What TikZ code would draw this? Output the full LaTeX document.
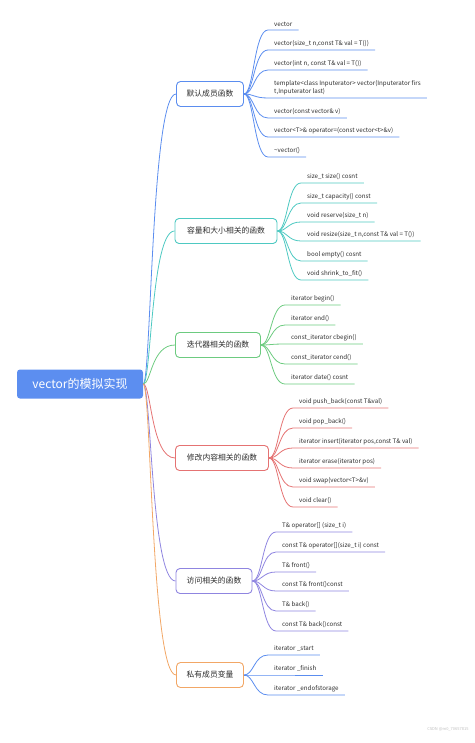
\documentclass[tikz,border=0pt]{standalone}
\usepackage{fontspec}
\setmainfont{Noto Sans CJK SC}
\usetikzlibrary{calc}
\definecolor{rootblue}{HTML}{5C8EF0}
\definecolor{cblue}{HTML}{5B8DEF}
\definecolor{cteal}{HTML}{4EC9C2}
\definecolor{cgreen}{HTML}{6DCB80}
\definecolor{cred}{HTML}{E57373}
\definecolor{cpurple}{HTML}{8F85E0}
\definecolor{corange}{HTML}{F2A766}
\definecolor{txt}{HTML}{2E2E2E}
\tikzset{rootbox/.style={rectangle,rounded corners=3pt,fill=rootblue,text=white,
    minimum width=126pt,minimum height=29pt,font=\fontsize{12}{14}\selectfont},
  topic/.style={rectangle,rounded corners=4pt,draw,line width=.9pt,fill=white,text=txt,
    minimum height=25pt,inner xsep=6pt,font=\fontsize{7.8}{9}\selectfont},
  leaf/.style={anchor=south west,inner xsep=6pt,inner ysep=3pt,align=left,text=txt,
    font=\fontsize{6.2}{7.8}\selectfont},
  link/.style={line width=.8pt}}

\begin{document}
\begin{tikzpicture}[x=1pt,y=-1pt]
  \path[use as bounding box] (0,0) rectangle (474,743);
  \node[rootbox] (root) at (80,384) {vector的模拟实现};
  \coordinate (hub) at ($(root.east)+(8,0)$);
  % topics
  \node[topic,draw=cblue,minimum width=67pt] (t1) at (210,94) {默认成员函数};
  \node[topic,draw=cteal,minimum width=102pt] (t2) at (226,231) {容量和大小相关的函数};
  \node[topic,draw=cgreen,minimum width=85pt] (t3) at (218,345) {迭代器相关的函数};
  \node[topic,draw=cred,minimum width=93pt] (t4) at (222,458) {修改内容相关的函数};
  \node[topic,draw=cpurple,minimum width=76pt] (t5) at (214,581) {访问相关的函数};
  \node[topic,draw=corange,minimum width=67pt] (t6) at (210,675) {私有成员变量};
  \foreach \t/\c in {t1/cblue,t2/cteal,t3/cgreen,t4/cred,t5/cpurple,t6/corange}
    \draw[link,\c] (root.east) .. controls (hub) and (hub |- \t.west) .. (\t.west);
  % leaves
  \foreach \t/\c/\x/\items in {
    t1/cblue/268/{30/vector,50/{vector(size\_t n,const T\& val = T())},
      70/{vector(int n, const T\& val = T())},
      98/{template<class Inputerator> vector(Inputerator firs\\t,Inputerator last)},
      118/{vector(const vector\& v)},137/{vector<T>\& operator=(const vector<t>\&v)},
      157/\textasciitilde vector()},
    t2/cteal/301/{183/size\_t size() cosnt,203/size\_t capacity() const,
      222/void reserve(size\_t n),241/{void resize(size\_t n,const T\& val = T())},
      261/bool empty() cosnt,280/void shrink\_to\_fit()},
    t3/cgreen/285/{305/iterator begin(),325/iterator end(),344/const\_iterator cbegin(),
      364/const\_iterator cend(),384/iterator date() cosnt},
    t4/cred/293/{408/void push\_back(const T\&val),428/void pop\_back(),
      448/{iterator insert(iterator pos,const T\& val)},468/iterator erase(iterator pos),
      487/void swap(vector<T>\&v),507/void clear()},
    t5/cpurple/276/{532/T\& operator[] (size\_t i),552/const T\& operator[](size\_t i) const,
      572/T\& front(),591/const T\& front()const,611/T\& back(),631/const T\& back()const},
    t6/cblue/268/{655/iterator \_start,675/iterator \_finish,695/iterator \_endofstorage}}{
    \coordinate (h-\t) at ($(\t.east)+(10,0)$);
    \foreach \uy/\txt [count=\i] in \items {
      \node[leaf] (\t-\i) at (\x,\uy) {\txt};
      \draw[link,\c] (\t.east) .. controls (h-\t) and (h-\t |- \t-\i.south west)
        .. (\t-\i.south west) -- (\t-\i.south east);
    }
  }
  \node[anchor=east,text=black!25,font=\fontsize{4}{5}\selectfont] (mark) at (472,729) {CSDN @m0\_70657815};
\end{tikzpicture}
\end{document}
